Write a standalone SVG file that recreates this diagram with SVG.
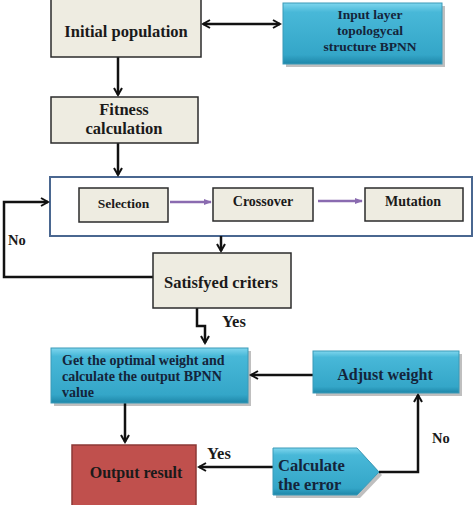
<svg xmlns="http://www.w3.org/2000/svg" width="474" height="505" viewBox="0 0 474 505" font-family="'Liberation Serif', 'DejaVu Serif', serif">
<style>
  text { font-family: 'Liberation Serif', 'DejaVu Serif', serif; font-weight: bold; fill: #1a1a1a; }
  .gray { fill: #eeece1; stroke: #2b2b2b; stroke-width: 1.5; }
  .cyan { fill: url(#cy); stroke: #3a9ab8; stroke-width: 1; }
  .shadow { fill: #000; opacity: 0.25; }
  .ln { fill: none; stroke: #111; stroke-width: 2.5; }
  .pl { fill: none; stroke: #8a6bb0; stroke-width: 2.5; }
  .ct { fill: #14243a; }
</style>
<defs>
  <linearGradient id="cy" x1="0" y1="0" x2="0" y2="1">
    <stop offset="0" stop-color="#7fd6ee"/>
    <stop offset="0.15" stop-color="#48b8d8"/>
    <stop offset="0.85" stop-color="#34a6c8"/>
    <stop offset="1" stop-color="#1e86a8"/>
  </linearGradient>
  <marker id="ah" viewBox="0 0 10 10" refX="8" refY="5" markerWidth="4" markerHeight="4" orient="auto-start-reverse">
    <path d="M1,1 L8,5 L1,9" fill="none" stroke="#111" stroke-width="2"/>
  </marker>
  <marker id="ahp" viewBox="0 0 10 10" refX="9" refY="5" markerWidth="3.2" markerHeight="3.2" orient="auto">
    <path d="M0,1 L10,5 L0,9 Z" fill="#8a6bb0"/>
  </marker>
</defs>

<g id="ga">
  <rect x="50" y="177" width="422" height="59" fill="#fff" stroke="#4a6790" stroke-width="2"/>
</g>

<g id="connectors">
  <line class="ln" x1="203" y1="24" x2="280" y2="24" marker-start="url(#ah)" marker-end="url(#ah)"/>
  <line class="ln" x1="118" y1="57" x2="118" y2="95" marker-end="url(#ah)"/>
  <line class="ln" x1="118" y1="143" x2="118" y2="175" marker-end="url(#ah)"/>
  <line class="pl" x1="170" y1="202" x2="211" y2="202" marker-end="url(#ahp)"/>
  <line class="pl" x1="318" y1="201" x2="362" y2="201" marker-end="url(#ahp)"/>
  <polyline class="ln" points="153,277 4,277 4,202 48,202" marker-end="url(#ah)"/>
  <line class="ln" x1="221" y1="236" x2="221" y2="251" marker-end="url(#ah)"/>
  <polyline class="ln" points="197,308 197,326 205,326 205,343" marker-end="url(#ah)"/>
  <line class="ln" x1="313" y1="375" x2="251" y2="375" marker-end="url(#ah)"/>
  <line class="ln" x1="125" y1="403" x2="125" y2="442" marker-end="url(#ah)"/>
  <line class="ln" x1="273" y1="467" x2="199" y2="467" marker-end="url(#ah)"/>
  <polyline class="ln" points="379,472 418,472 418,395" marker-end="url(#ah)"/>
  <text x="8" y="245" font-size="14.5">No</text>
  <text x="222" y="327" font-size="16.5">Yes</text>
  <text x="207" y="459" font-size="16.5">Yes</text>
  <text x="432" y="443" font-size="14.5">No</text>
</g>

<g id="initial">
  <rect class="gray" x="51" y="-2" width="150" height="59"/>
  <text x="126" y="37" font-size="16.5" text-anchor="middle">Initial population</text>
</g>

<g id="input">
  <rect class="shadow" x="286" y="6" width="159" height="61"/>
  <rect class="cyan" x="283" y="3" width="159" height="61"/>
  <text class="ct" font-size="13.5" text-anchor="middle"><tspan x="370" y="19">Input layer</tspan><tspan x="370" y="35">topologycal</tspan><tspan x="370" y="51">structure BPNN</tspan></text>
</g>

<g id="fitness">
  <rect class="gray" x="51" y="97" width="147" height="46"/>
  <text font-size="16.5" text-anchor="middle"><tspan x="124" y="115">Fitness</tspan><tspan x="124" y="134">calculation</tspan></text>
</g>

<g id="selection">
  <rect class="gray" x="79" y="188" width="89" height="34"/>
  <text x="123.5" y="208" font-size="13.5" text-anchor="middle">Selection</text>
</g>

<g id="crossover">
  <rect class="gray" x="213" y="188" width="100" height="33"/>
  <text x="263" y="206" font-size="14" text-anchor="middle">Crossover</text>
</g>

<g id="mutation">
  <rect class="gray" x="365" y="188" width="98" height="33"/>
  <text x="413" y="206" font-size="14" text-anchor="middle">Mutation</text>
</g>

<g id="satisfyed">
  <rect class="gray" x="153" y="253" width="138" height="55"/>
  <text x="221" y="288" font-size="16.5" text-anchor="middle">Satisfyed criters</text>
</g>

<g id="optimal">
  <rect class="shadow" x="54" y="351" width="197" height="55"/>
  <rect class="cyan" x="51" y="348" width="197" height="55"/>
  <text class="ct" font-size="14"><tspan x="62" y="365">Get the optimal weight and</tspan><tspan x="62" y="381">calculate the output BPNN</tspan><tspan x="62" y="397">value</tspan></text>
</g>

<g id="adjust">
  <rect class="shadow" x="316" y="354" width="146" height="42"/>
  <rect class="cyan" x="313" y="351" width="146" height="42"/>
  <text class="ct" x="385" y="380" font-size="16" text-anchor="middle">Adjust weight</text>
</g>

<g id="output">
  <rect x="72" y="445" width="124" height="62" fill="#c0504d" stroke="#8c3836" stroke-width="1.5"/>
  <text x="136" y="478" font-size="16" text-anchor="middle">Output result</text>
</g>

<g id="calculate">
  <path class="shadow" d="M276,451 L360,451 L382,475 L360,498 L276,498 Z"/>
  <path class="cyan" d="M273,448 L357,448 L379,472 L357,495 L273,495 Z"/>
  <text class="ct" font-size="16.5"><tspan x="278" y="471">Calculate</tspan><tspan x="278" y="490">the error</tspan></text>
</g>
</svg>
